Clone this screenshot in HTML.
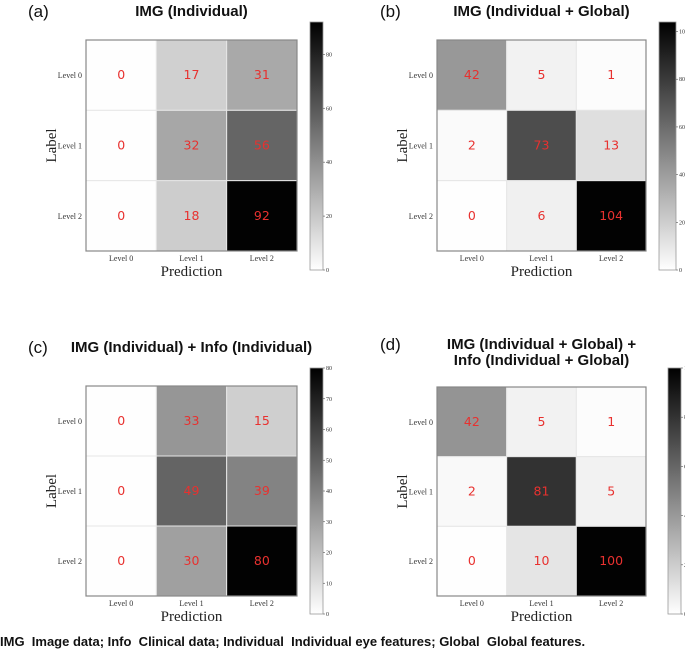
<!DOCTYPE html>
<html><head><meta charset="utf-8">
<style>
html,body{margin:0;padding:0;background:#fff;width:685px;height:655px;overflow:hidden}
svg{display:block}
.t{font-family:"Liberation Sans",Arial,sans-serif;font-weight:bold;font-size:15px;fill:#111}
.pl{font-family:"Liberation Sans",Arial,sans-serif;font-size:17px;fill:#111}
.tk{font-family:"Liberation Serif",serif;font-size:8px;fill:#333}
.ax{font-family:"Liberation Serif",serif;font-size:15px;fill:#222}
.cb{font-family:"Liberation Serif",serif;font-size:6px;fill:#333}
.v{font-family:"DejaVu Sans",sans-serif;font-size:12.5px;fill:#e8312f}
.cap{font-family:"Liberation Sans",Arial,sans-serif;font-weight:bold;font-size:13px;fill:#111;white-space:pre}
</style></head>
<body>
<svg id="chart" width="685" height="655" xmlns="http://www.w3.org/2000/svg">
<text class="cap" x="0" y="646" xml:space="preserve">IMG  Image data; Info  Clinical data; Individual  Individual eye features; Global  Global features.</text>
</svg>
<script>
const categories = ["Level 0","Level 1","Level 2"];
const valuesA = [[0,17,31],[0,32,56],[0,18,92]];
const valuesB = [[42,5,1],[2,73,13],[0,6,104]];
const valuesC = [[0,33,15],[0,49,39],[0,30,80]];
const valuesD = [[42,5,1],[2,81,5],[0,10,100]];
const vmaxA = 92, vmaxB = 104, vmaxC = 80, vmaxD = 100;
const ticksA = [0,20,40,60,80];
const ticksB = [0,20,40,60,80,100];
const ticksC = [0,10,20,30,40,50,60,70,80];
const ticksD = [0,20,40,60,80,100];
const titlesA = ["IMG (Individual)"];
const titlesB = ["IMG (Individual + Global)"];
const titlesC = ["IMG (Individual) + Info (Individual)"];
const titlesD = ["IMG (Individual + Global) +","Info (Individual + Global)"];

const NS="http://www.w3.org/2000/svg";
const svg=document.getElementById('chart');
function mk(tag,attrs,parent,text){const e=document.createElementNS(NS,tag);for(const k in attrs)e.setAttribute(k,attrs[k]);if(text!==undefined)e.textContent=text;(parent||svg).appendChild(e);return e;}
function gray(v,vmax){const g=Math.round(255*(1-Math.min(1,v/vmax))*0.99+2);return `rgb(${g},${g},${g})`;}

function panel(key,label,labelX,titles,titleY,values,vmax,ticks,hx,hy,hw,hh,cx,cy,cw,ch){
  const g=mk('g',{});
  
  
  const pl=mk('text',{class:'pl',x:labelX,y:titleY[0]+1},g,label);
  
  
  titles.forEach((t,i)=>{
    const te=mk('text',{class:'t',x:hx+hw/2,y:titleY[i],'text-anchor':'middle'},g,t);
    
    
  });
  const n=categories.length;
  const xs=j=>hx+j*hw/n, ys=i=>hy+i*hh/n;
  for(let i=0;i<n;i++)for(let j=0;j<n;j++){
    const r=mk('rect',{x:xs(j),y:ys(i),width:hw/n,height:hh/n,fill:gray(values[i][j],vmax),stroke:'#e6e6e6','stroke-width':1},g);
    
    
    const t=mk('text',{class:'v',x:xs(j)+hw/n/2,y:ys(i)+hh/n/2+4,'text-anchor':'middle'},g,values[i][j]);
    
    
  }
  mk('rect',{x:hx,y:hy,width:hw,height:hh,fill:'none',stroke:'#888','stroke-width':1.2},g);
  categories.forEach((c,i)=>{
    const yl=mk('text',{class:'tk',x:hx-4,y:ys(i)+hh/n/2+3,'text-anchor':'end'},g,c);
    
    
    const xl=mk('text',{class:'tk',x:xs(i)+hw/n/2,y:hy+hh+10,'text-anchor':'middle'},g,c);
    
    
  });
  const xt=mk('text',{class:'ax',x:hx+hw/2,y:hy+hh+25,'text-anchor':'middle'},g,'Prediction');
  
  
  const yt=mk('text',{class:'ax',x:0,y:0,'text-anchor':'middle',transform:`translate(${hx-30},${hy+hh/2}) rotate(-90)`},g,'Label');
  
  
  const gid='grad-'+key;
  const defs=mk('defs',{},g);
  const lg=mk('linearGradient',{id:gid,x1:0,y1:1,x2:0,y2:0},defs);
  mk('stop',{offset:0,'stop-color':'#fff'},lg);
  mk('stop',{offset:1,'stop-color':'#000'},lg);
  const cbr=mk('rect',{x:cx,y:cy,width:cw,height:ch,fill:`url(#${gid})`,stroke:'#999','stroke-width':0.8},g);
  
  
  ticks.forEach(t=>{
    const ty=cy+ch-(t/vmax)*ch;
    mk('line',{x1:cx+cw,x2:cx+cw+2,y1:ty,y2:ty,stroke:'#555','stroke-width':0.6},g);
    const tl=mk('text',{class:'cb',x:cx+cw+3,y:ty+2},g,t);
    
    
  });
}
panel('a','(a)',28,titlesA,[16],valuesA,vmaxA,ticksA,86,40,211,211,310,22,13,248);
panel('b','(b)',380,titlesB,[16],valuesB,vmaxB,ticksB,437,40,209,211,659,22,17,248);
panel('c','(c)',28,titlesC,[352],valuesC,vmaxC,ticksC,86,386,211,210,310,368,13,246);
panel('d','(d)',380,titlesD,[349,365],valuesD,vmaxD,ticksD,437,387,209,209,668,368,13,246);
</script>
</body></html>
